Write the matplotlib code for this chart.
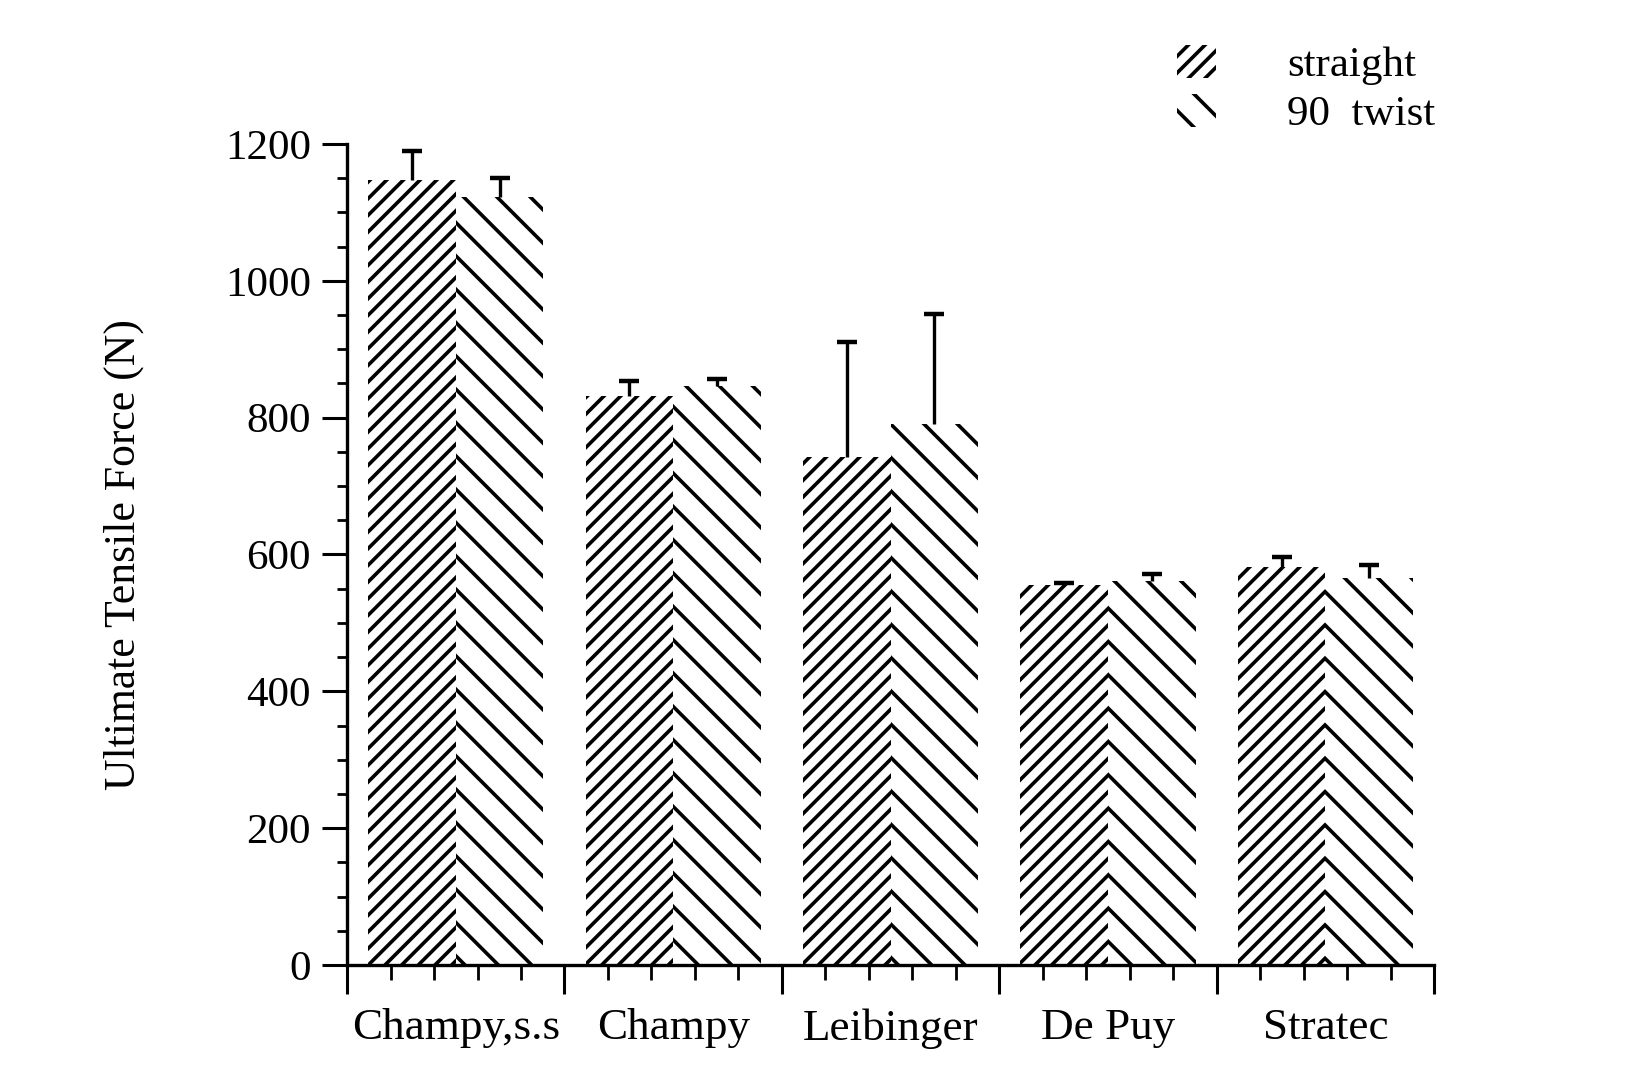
import numpy as np
import matplotlib
matplotlib.use("Agg")
import matplotlib.pyplot as plt
from matplotlib.ticker import MultipleLocator

plt.rcParams['font.family'] = ['Liberation Serif', 'DejaVu Serif']
plt.rcParams['hatch.linewidth'] = 2.6

categories = ["Champy,s.s", "Champy", "Leibinger", "De Puy", "Stratec"]
straight = [1148, 831, 742, 556, 581]
straight_err = [41, 23, 169, 3, 15]
twist = [1123, 846, 791, 561, 566]
twist_err = [27, 11, 161, 10, 19]
series_labels = ["straight", "90  twist"]
yticks = [0, 200, 400, 600, 800, 1000, 1200]

fig = plt.figure(figsize=(16.48, 10.67), dpi=100)
ax = fig.add_axes([0.2106, 0.0956, 0.6596, 0.7695])

x = np.arange(len(categories)) + 0.5
w = 0.403
b1 = ax.bar(x - w / 2, straight, w, color='white', edgecolor='black',
            linewidth=0, hatch='//', label=series_labels[0])
b2 = ax.bar(x + w / 2, twist, w, color='white', edgecolor='black',
            linewidth=0, hatch='\\', label=series_labels[1])
for xs, vals, errs in [(x - w / 2, straight, straight_err),
                       (x + w / 2, twist, twist_err)]:
    eb = ax.errorbar(xs, vals, yerr=[np.zeros(len(xs)), errs],
                     fmt='none', ecolor='black', elinewidth=2.4, capsize=7,
                     capthick=3.2, clip_on=False)
    # only keep the upper caps
    caps = eb[1]
    if len(caps) >= 2:
        caps[0].set_visible(False)

ax.set_xlim(0, len(categories))
ax.set_ylim(0, 1200)
for s in ['top', 'right']:
    ax.spines[s].set_visible(False)
for s in ['left', 'bottom']:
    ax.spines[s].set_linewidth(2.4)

ax.set_yticks(yticks)
ax.yaxis.set_minor_locator(MultipleLocator(50))
ax.tick_params(axis='y', which='major', length=18, width=2.2, labelsize=31, pad=8)
ax.tick_params(axis='y', which='minor', length=7.5, width=2.0)

ax.set_xticks(np.arange(len(categories) + 1))
ax.set_xticklabels([])
ax.xaxis.set_minor_locator(MultipleLocator(0.2))
ax.tick_params(axis='x', which='major', length=21, width=2.2)
ax.tick_params(axis='x', which='minor', length=11, width=2.0)

sec = ax.secondary_xaxis('bottom')
sec.set_xticks(x)
sec.set_xticklabels(categories)
sec.tick_params(axis='x', length=0, labelsize=32.5, pad=31)
sec.spines['bottom'].set_visible(False)

ax.set_ylabel("Ultimate Tensile Force (N)", fontsize=31.5, labelpad=58)

fig.legend(handles=[b1, b2], labels=series_labels, loc='upper left',
           bbox_to_anchor=(1177 / 1648, 1 - 45 / 1067), frameon=False,
           borderpad=0, borderaxespad=0, handlelength=0.9, handleheight=0.8,
           handletextpad=1.65, labelspacing=0.2, fontsize=31)

fig.savefig("out.png", dpi=100)
